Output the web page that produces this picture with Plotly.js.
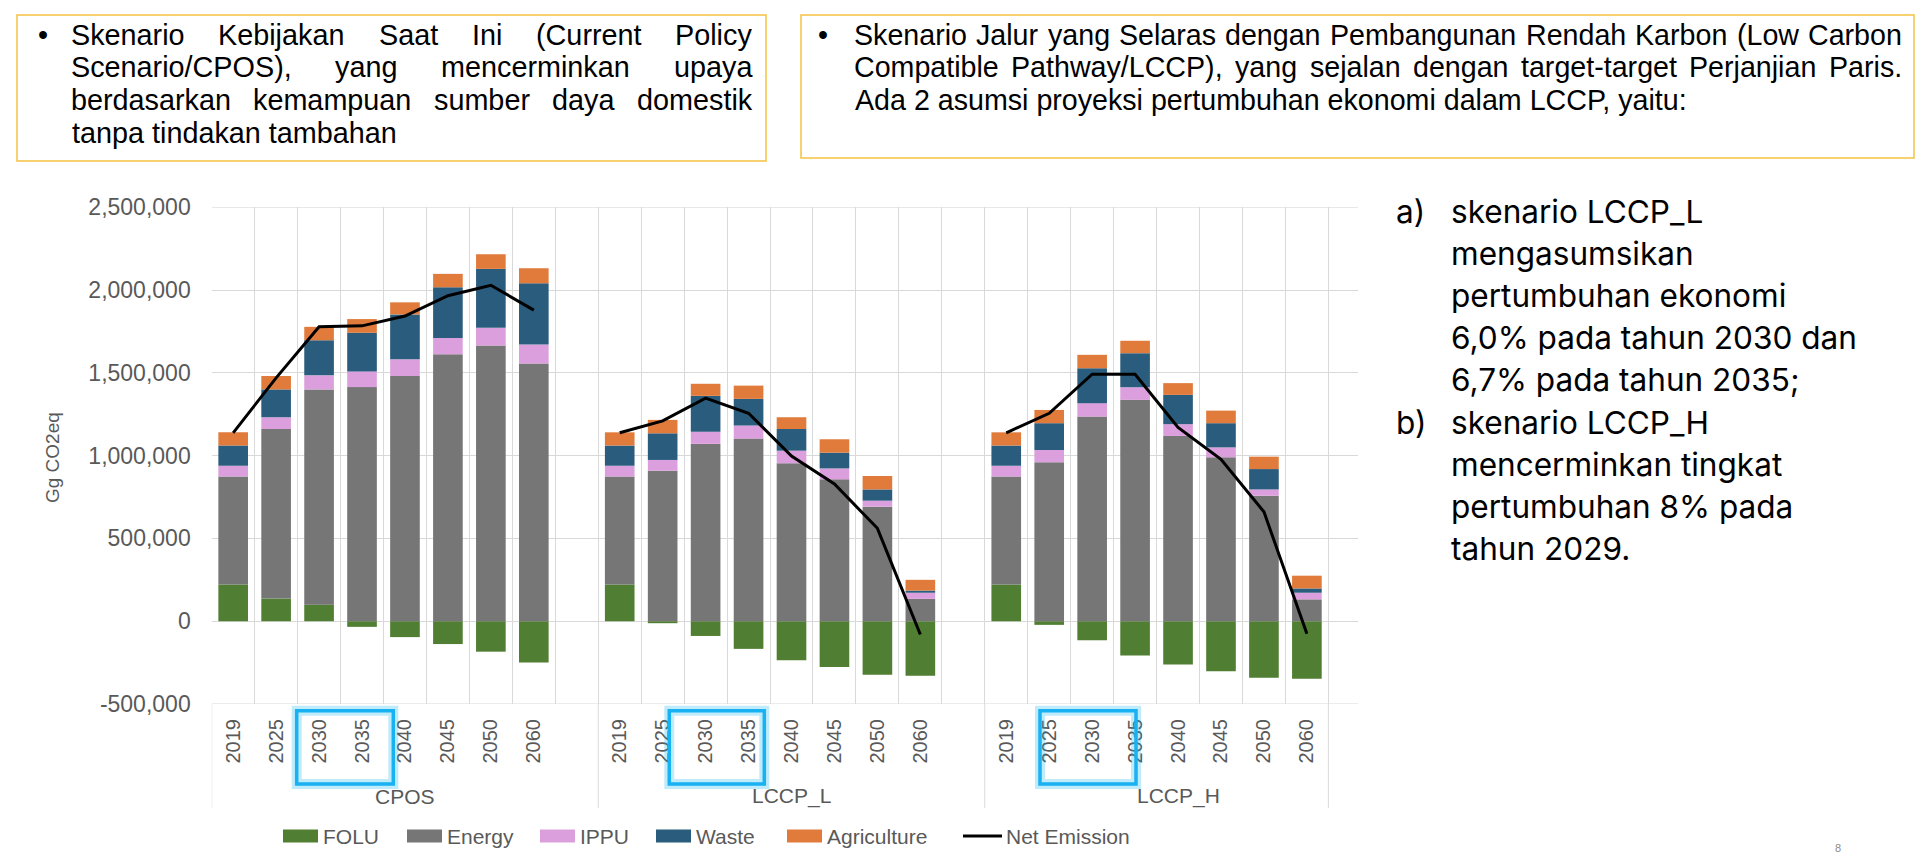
<!DOCTYPE html>
<html><head><meta charset="utf-8">
<script src="https://cdn.plot.ly/plotly-3.0.1.min.js"></script>
<style>html,body{margin:0;padding:0;background:#fff;overflow:hidden}#chart{width:1920px;height:856px}</style>
</head><body><div id="chart"></div>
<script>
// ---------------- DATA (Gg CO2eq) ----------------
const scenarios = ["CPOS", "LCCP_L", "LCCP_H"];
const years = ["2019", "2025", "2030", "2035", "2040", "2045", "2050", "2060"];

const foluCPOS  = [222000, 137000, 100000, -34000, -96000, -138000, -184000, -250000];
const energyCPOS= [652000, 1024000, 1300000, 1414000, 1481000, 1612000, 1665000, 1556000];
const ippuCPOS  = [65000, 71000, 85000, 95000, 101000, 99000, 107000, 115000];
const wasteCPOS = [122000, 168000, 212000, 233000, 271000, 306000, 356000, 370000];
const agriCPOS  = [80000, 81000, 81000, 83000, 73000, 81000, 89000, 91000];
const netCPOS   = [1138000, 1470000, 1778000, 1784000, 1843000, 1966000, 2029000, 1879000];

const foluLCCPL  = [222000, -12000, -89000, -167000, -236000, -276000, -323000, -329000];
const energyLCCPL= [652000, 909000, 1071000, 1103000, 954000, 857000, 692000, 135000];
const ippuLCCPL  = [65000, 65000, 74000, 79000, 76000, 66000, 36000, 37000];
const wasteLCCPL = [122000, 161000, 216000, 161000, 131000, 95000, 68000, 13000];
const agriLCCPL  = [80000, 81000, 73000, 80000, 71000, 81000, 81000, 65000];
const netLCCPL   = [1138000, 1210000, 1347000, 1256000, 998000, 829000, 561000, -80000];

const foluLCCPH  = [222000, -22000, -115000, -207000, -261000, -302000, -342000, -348000];
const energyLCCPH= [652000, 960000, 1236000, 1337000, 1119000, 990000, 758000, 132000];
const ippuLCCPH  = [65000, 74000, 81000, 76000, 71000, 60000, 38000, 40000];
const wasteLCCPH = [122000, 162000, 211000, 206000, 177000, 146000, 123000, 26000];
const agriLCCPH  = [80000, 80000, 81000, 75000, 71000, 76000, 75000, 77000];
const netLCCPH   = [1138000, 1256000, 1492000, 1492000, 1171000, 978000, 661000, -75000];

const sectorNames = ["FOLU", "Energy", "IPPU", "Waste", "Agriculture"];
const netName = "Net Emission";
const yTickVals = [-500000, 0, 500000, 1000000, 1500000, 2000000, 2500000];
const yTickLabels = ["-500,000", "0", "500,000", "1,000,000", "1,500,000", "2,000,000", "2,500,000"];
const yTitle = "Gg CO2eq";
const pageNumber = "8";

const box1Lines = [
  "Skenario Kebijakan Saat Ini (Current Policy",
  "Scenario/CPOS), yang mencerminkan upaya",
  "berdasarkan kemampuan sumber daya domestik",
  "tanpa tindakan tambahan"];
const box2Lines = [
  "Skenario Jalur yang Selaras dengan Pembangunan Rendah Karbon (Low Carbon",
  "Compatible Pathway/LCCP), yang sejalan dengan target-target Perjanjian Paris.",
  "Ada 2 asumsi proyeksi pertumbuhan ekonomi dalam LCCP, yaitu:"];
const sideMarkers = ["a)", "", "", "", "", "b)", "", "", ""];
const sideLines = [
  "skenario LCCP_L", "mengasumsikan", "pertumbuhan ekonomi",
  "6,0% pada tahun 2030 dan", "6,7% pada tahun 2035;",
  "skenario LCCP_H", "mencerminkan tingkat", "pertumbuhan 8% pada", "tahun 2029."];

// ---------------- STYLE ----------------
const W = 1920, H = 856;
const colors = ["#507e32", "#767676", "#dc9fdd", "#2a5c7d", "#e07b3c"];
const FAM = "'Liberation Sans', Arial, sans-serif";
const SIDEFAM = "Inter, 'Liberation Sans', sans-serif";
const grid = "#d9d9d9", lab = "#595959";
const px = v => v / W, py = v => 1 - v / H;

const sectorData = [
  [foluCPOS, foluLCCPL, foluLCCPH],
  [energyCPOS, energyLCCPL, energyLCCPH],
  [ippuCPOS, ippuLCCPL, ippuLCCPH],
  [wasteCPOS, wasteLCCPL, wasteLCCPH],
  [agriCPOS, agriLCCPL, agriLCCPH]];
const netData = [netCPOS, netLCCPL, netLCCPH];

// slot positions: each scenario takes 9 slots (8 years + 1 blank)
const slot = (g, i) => g * 9 + i;
const xs = [];
scenarios.forEach((s, g) => years.forEach((y, i) => xs.push(slot(g, i))));

const traces = [];
sectorNames.forEach((n, k) => {
  traces.push({type: "bar", name: n, x: xs, y: [].concat(...sectorData[k]),
    width: 0.69, marker: {color: colors[k], line: {width: 0}}, showlegend: false,
    hovertemplate: n + ": %{y:,}<extra></extra>"});
});
scenarios.forEach((s, g) => {
  traces.push({type: "scatter", mode: "lines", name: netName,
    x: years.map((y, i) => slot(g, i)), y: netData[g],
    line: {color: "#000", width: 3}, showlegend: false});
});

const tickvals = [], ticktext = [];
scenarios.forEach((s, g) => years.forEach((y, i) => { tickvals.push(slot(g, i)); ticktext.push(y); }));

const plotL = 211.7, plotR = 1358, plotT = 207.3, plotB = 704;

const shapes = [], annotations = [];

// top & bottom gridlines (range edges)
[yTickVals[0], yTickVals[yTickVals.length - 1]].forEach(v => shapes.push({type: "line", xref: "paper", yref: "y",
  x0: px(plotL), x1: px(plotR), y0: v, y1: v, line: {color: grid, width: 1}, layer: "below"}));
// group separators below axis
[-0.5, 8.5, 17.5, 25.5].forEach(b => shapes.push({type: "line", xref: "x", yref: "paper",
  x0: b, x1: b, y0: py(808), y1: py(plotB), line: {color: grid, width: 1}, layer: "below"}));
// group labels
scenarios.forEach((s, g) => annotations.push({xref: "x", yref: "paper", x: slot(g, 0) + 3.5 + 0.5,
  y: py(796), text: s, showarrow: false, font: {family: FAM, size: 21, color: lab}, xanchor: "center", yanchor: "middle"}));

// highlight boxes
[[296.7, 393.3], [669.3, 764.3], [1040, 1136]].forEach(([a, b]) => {
  shapes.push({type: "rect", xref: "paper", yref: "paper", x0: px(a), x1: px(b), y0: py(784), y1: py(710.7),
    line: {color: "rgba(0,176,240,0.25)", width: 10}});
  shapes.push({type: "rect", xref: "paper", yref: "paper", x0: px(a), x1: px(b), y0: py(784), y1: py(710.7),
    line: {color: "#18b1f2", width: 3.5}});
});

// y title
annotations.push({xref: "paper", yref: "paper", x: px(52), y: py(458), text: yTitle, textangle: -90,
  showarrow: false, font: {family: FAM, size: 19, color: lab}, xanchor: "center", yanchor: "middle"});

// custom legend
const legSw = [283, 407, 540, 656, 787];
sectorNames.forEach((n, k) => {
  shapes.push({type: "rect", xref: "paper", yref: "paper", x0: px(legSw[k]), x1: px(legSw[k] + 35),
    y0: py(842.5), y1: py(829.5), fillcolor: colors[k], line: {width: 0}});
  annotations.push({xref: "paper", yref: "paper", x: px(legSw[k] + 38), y: py(836), text: n, showarrow: false,
    xanchor: "left", yanchor: "middle", font: {family: FAM, size: 21, color: lab}});
});
shapes.push({type: "line", xref: "paper", yref: "paper", x0: px(963), x1: px(1002), y0: py(836), y1: py(836),
  line: {color: "#000", width: 3}});
annotations.push({xref: "paper", yref: "paper", x: px(1004), y: py(836), text: netName, showarrow: false,
  xanchor: "left", yanchor: "middle", font: {family: FAM, size: 21, color: lab}});

// page number (small, at bottom edge)
annotations.push({xref: "paper", yref: "paper", x: px(1838), y: py(855), text: pageNumber, showarrow: false,
  xanchor: "center", yanchor: "bottom", borderpad: 0, font: {family: FAM, size: 11, color: "#8c8c8c"}});

// ---------- text boxes ----------
const ctx = document.createElement("canvas").getContext("2d");
function tw(t, size, fam) { ctx.font = size + "px " + fam; return ctx.measureText(t).width; }
function fit(t, width, fam) { return width / tw(t, 100, fam) * 100; }
function justified(line, left, right, y, size, fam, justify) {
  if (!justify) {
    annotations.push({xref: "paper", yref: "paper", x: px(left), y: py(y), text: line, showarrow: false,
      xanchor: "left", yanchor: "middle", font: {family: fam, size: size, color: "#000"}});
    return;
  }
  const words = line.split(" ");
  const ws = words.map(w => tw(w, size, fam));
  const total = ws.reduce((a, b) => a + b, 0);
  const gap = (right - left - total) / (words.length - 1);
  let x = left;
  words.forEach((w, i) => {
    annotations.push({xref: "paper", yref: "paper", x: px(x), y: py(y), text: w, showarrow: false,
      xanchor: "left", yanchor: "middle", borderpad: 0, font: {family: fam, size: size, color: "#000"}});
    x += ws[i] + gap;
  });
}
shapes.push({type: "rect", xref: "paper", yref: "paper", x0: px(17), x1: px(766), y0: py(161), y1: py(15),
  line: {color: "#f5c242", width: 1.5}});
shapes.push({type: "rect", xref: "paper", yref: "paper", x0: px(801), x1: px(1914), y0: py(158), y1: py(15),
  line: {color: "#f5c242", width: 1.5}});
const s1 = fit(box1Lines[3], 325, FAM);
const s2 = fit(box2Lines[2], 832, FAM);
const lineY = [35, 67.5, 100, 133];
annotations.push({xref: "paper", yref: "paper", x: px(36), y: py(35), text: "•", showarrow: false, xanchor: "left", yanchor: "middle", font: {family: FAM, size: s1, color: "#000"}});
box1Lines.forEach((l, i) => justified(l, 70, 751, lineY[i], s1, FAM, i < 3));
annotations.push({xref: "paper", yref: "paper", x: px(816), y: py(35), text: "•", showarrow: false, xanchor: "left", yanchor: "middle", font: {family: FAM, size: s2, color: "#000"}});
box2Lines.forEach((l, i) => justified(l, 853, 1901, lineY[i], s2, FAM, i < 2));

// side text
const s3 = fit(sideLines[3], 406, SIDEFAM);
sideLines.forEach((l, i) => {
  const y = 211 + i * 42.2;
  if (sideMarkers[i]) annotations.push({xref: "paper", yref: "paper", x: px(1394), y: py(y), text: sideMarkers[i],
    showarrow: false, xanchor: "left", yanchor: "middle", font: {family: SIDEFAM, size: s3, color: "#000"}});
  annotations.push({xref: "paper", yref: "paper", x: px(1449), y: py(y), text: l, showarrow: false,
    xanchor: "left", yanchor: "middle", font: {family: SIDEFAM, size: s3, color: "#000"}});
});

const layout = {
  width: W, height: H, margin: {l: 0, r: 0, t: 0, b: 0},
  paper_bgcolor: "#fff", plot_bgcolor: "#fff", barmode: "relative", showlegend: false,
  font: {family: FAM, color: lab},
  xaxis: {domain: [px(plotL), px(plotR)], range: [-0.5, 26.19], tickmode: "array", tickvals: tickvals, ticktext: ticktext,
    tickangle: -90, showgrid: false, zeroline: false, showline: false, ticks: "", ticklabelstandoff: 10,
    tickfont: {family: FAM, size: 20, color: lab}, fixedrange: true,
    minor: {tickmode: "linear", tick0: -0.5, dtick: 1, showgrid: true, gridcolor: grid, gridwidth: 1, ticks: ""}},
  yaxis: {domain: [py(plotB), py(plotT)], range: [-500000, 2500000], tickmode: "array", tickvals: yTickVals,
    ticktext: yTickLabels, showgrid: true, gridcolor: grid, gridwidth: 1, zeroline: true, zerolinecolor: grid,
    zerolinewidth: 1, showline: false, ticks: "", ticklabelstandoff: 20, tickfont: {family: FAM, size: 23, color: lab},
    fixedrange: true},
  shapes: shapes, annotations: annotations
};
Plotly.newPlot("chart", traces, layout, {displayModeBar: false, staticPlot: true});
</script></body></html>
